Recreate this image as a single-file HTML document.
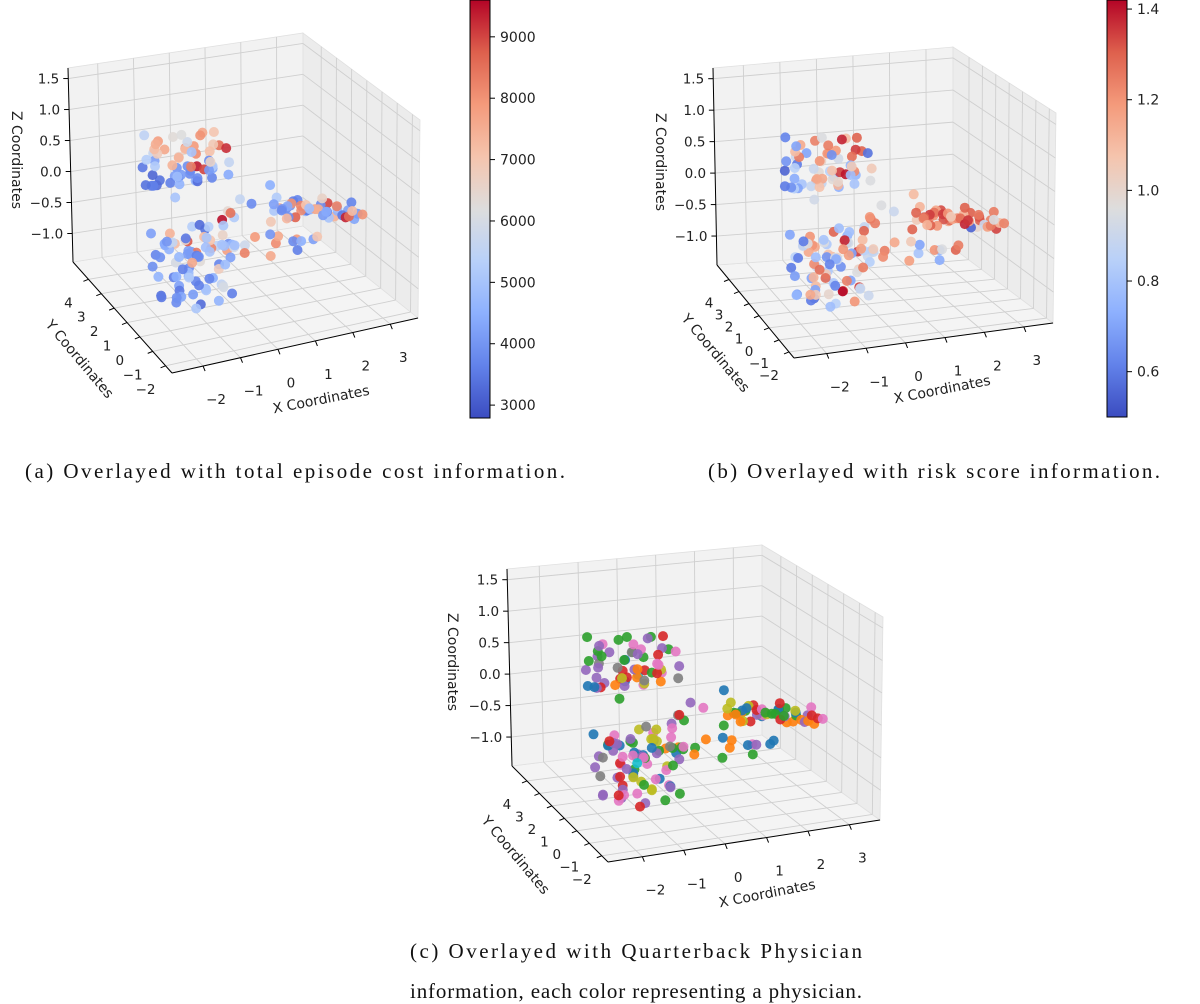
<!DOCTYPE html>
<html><head><meta charset="utf-8"><style>
html,body{margin:0;padding:0;background:#fff;}
svg{display:block;}
</style></head><body>
<svg id="fig" width="1200" height="1004" viewBox="0 0 1200 1004" xmlns="http://www.w3.org/2000/svg" font-family="'DejaVu Sans','Liberation Sans',sans-serif">
<defs>
<linearGradient id="cw" x1="0" y1="1" x2="0" y2="0">
<stop offset="0" stop-color="#3b4cc0"/><stop offset="0.125" stop-color="#6282ea"/><stop offset="0.25" stop-color="#8db0fe"/><stop offset="0.375" stop-color="#b8d0f9"/><stop offset="0.5" stop-color="#dddddd"/><stop offset="0.625" stop-color="#f5c4ad"/><stop offset="0.75" stop-color="#f49a7b"/><stop offset="0.875" stop-color="#de604d"/><stop offset="1" stop-color="#b40426"/>
</linearGradient>
</defs>
<g id="panelA"></g>
<g id="panelB"></g>
<g id="panelC"></g>
<text x="25" y="478" font-family="'Liberation Serif',serif" font-size="21" textLength="540" fill="#111">(a) Overlayed with total episode cost information.</text>
<text x="708" y="478" font-family="'Liberation Serif',serif" font-size="21" textLength="452" fill="#111">(b) Overlayed with risk score information.</text>
<text x="410" y="958" font-family="'Liberation Serif',serif" font-size="21" textLength="452" fill="#111">(c) Overlayed with Quarterback Physician</text>
<text x="410" y="998" font-family="'Liberation Serif',serif" font-size="21" textLength="452" fill="#111">information, each color representing a physician.</text>
</svg>
<script>
// ---- data ----
const pointsX=[-1.4,-1.2,-0.9,-0.6,-0.3,0.0,0.3,0.6,-1.3,-1.0,-0.7,-0.4,-0.1,0.2,0.5,0.8,-1.6,-1.1,-0.8,-0.5,-0.2,0.1,0.4,-1.3,-0.9,-0.6,-0.3,0.0,0.3,0.7,-1.5,-1.2,-0.8,-0.4,-0.1,0.2,-1.0,-0.6,-0.2,0.1,
-1.5,-1.2,-0.9,-0.6,-0.3,0.0,0.3,0.6,0.8,-1.4,-1.1,-0.8,-0.5,-0.2,0.1,0.4,-1.3,-1.0,-0.7,-0.4,-0.1,0.2,0.5,-1.6,-0.9,-0.6,-0.3,0.0,0.3,-1.2,-0.8,-0.4,-0.1,0.2,0.5,-1.4,-1.0,-0.7,-0.3,0.1,-1.1,-0.5,-0.2,0.4,0.7,
-1.7,-1.4,-1.1,-0.8,-0.5,-0.2,0.1,-1.5,-1.2,-0.9,-0.6,-0.3,0.0,-1.6,-1.3,-1.0,-0.7,-0.4,-0.1,-0.8,
0.4,0.7,1.0,1.3,1.6,1.9,0.6,0.9,1.2,1.5,0.8,1.8,
1.8,1.9,2.0,2.1,2.2,2.3,2.4,2.5,2.6,2.7,2.8,2.9,3.0,3.1,3.2,3.3,3.4,3.5,3.6,2.0,2.3,2.6,2.9,3.2,3.5,
1.8,2.1,2.4,2.7,2.2,1.9,2.6,2.3,
1.95,2.15,2.35,2.55,2.75,2.95,3.15,3.35,3.55,2.05,2.45,2.85,3.25,2.25,2.65,3.05,3.45,1.85,2.5,3.0,
-1.2,-0.8,-0.4,0.0,0.4,-1.0,-0.6,-0.2,0.2,0.6,-1.4,-0.9,-0.5,-0.1,0.3,-1.1,-0.7,-0.3,0.1,0.5,-1.3,-0.9,-0.5,-0.1,0.3,-1.0,-0.6,-0.2,0.2,0.6,-1.5,-1.1,-0.7,-0.3,0.1,-1.2,-0.8,-0.4,0.0,0.4];
const pointsY=[3.5,3.2,3.8,2.9,3.4,3.1,3.7,2.8,3.0,3.6,3.3,2.7,3.9,3.0,3.4,3.1,2.9,3.7,3.2,3.5,2.8,3.6,3.3,3.9,2.6,3.4,3.0,3.8,3.2,2.9,3.1,3.4,2.7,3.6,3.3,3.0,3.9,3.5,2.8,3.7,
2.8,2.2,3.0,2.5,1.9,2.7,2.3,3.1,2.0,2.4,1.8,2.9,2.1,3.2,2.6,1.7,3.0,2.3,1.9,2.8,2.2,3.3,2.5,2.0,1.6,2.4,3.0,1.8,2.7,2.6,2.1,1.7,2.9,2.3,2.0,1.9,2.8,3.1,2.4,1.6,2.2,2.7,1.9,2.5,2.9,
1.5,1.2,1.8,1.0,1.4,1.7,1.1,0.9,1.6,1.3,1.9,1.0,1.5,1.8,1.1,0.8,1.4,1.7,1.2,1.9,
2.0,2.5,1.8,2.8,2.2,3.0,1.5,2.6,1.2,2.0,3.2,1.6,
2.5,2.2,2.6,2.3,2.0,2.4,2.1,1.8,2.2,1.9,1.6,2.0,1.7,1.4,1.6,1.3,1.1,1.2,0.9,2.8,2.6,2.3,1.9,1.8,1.4,
2.2,1.9,2.4,2.0,1.6,2.6,1.5,2.1,
2.3,2.5,2.0,2.3,1.8,1.7,1.5,1.2,1.1,2.1,1.9,1.5,1.4,2.4,2.1,1.9,1.5,2.6,2.6,2.2,
3.3,3.6,3.0,3.4,3.2,3.8,3.1,3.5,2.9,3.3,3.0,3.7,3.2,3.6,3.0,3.4,2.8,3.9,3.1,3.5,2.3,2.8,2.0,2.6,2.2,1.8,2.5,2.9,2.1,2.4,2.7,2.0,2.4,1.7,2.8,1.5,1.9,2.2,1.6,2.0];
const pointsZ=[0.8,0.7,0.6,0.85,0.5,0.75,0.65,0.55,0.4,0.45,0.3,0.6,0.4,0.35,0.7,0.25,0.15,0.1,0.05,0.2,0.1,0.15,0.0,0.2,-0.05,0.1,0.3,0.05,0.45,0.1,0.5,0.0,0.25,0.35,0.55,0.2,0.4,0.7,0.15,-0.1,
-0.6,-0.65,-0.7,-0.75,-0.6,-0.8,-0.7,-0.65,-0.85,-0.9,-0.8,-0.85,-0.9,-0.7,-0.95,-0.75,-1.0,-1.0,-0.95,-1.05,-0.9,-0.8,-1.0,-1.1,-1.1,-1.15,-1.05,-1.1,-0.95,-0.75,-0.6,-0.7,-1.2,-1.15,-0.85,-0.55,-0.9,-1.2,-0.5,-1.0,-1.2,-0.95,-0.65,-0.6,-1.0,
-1.3,-1.35,-1.25,-1.4,-1.3,-1.2,-1.35,-1.2,-1.4,-1.3,-1.25,-1.4,-1.3,-1.35,-1.25,-1.4,-1.2,-1.35,-1.25,-1.15,
-0.3,-0.5,-0.7,-0.4,-0.6,-0.2,-0.85,-0.25,-0.9,-0.75,-0.55,-0.45,
-0.4,-0.45,-0.5,-0.42,-0.55,-0.38,-0.48,-0.4,-0.52,-0.45,-0.5,-0.42,-0.58,-0.35,-0.47,-0.53,-0.4,-0.56,-0.44,-0.37,-0.49,-0.55,-0.3,-0.6,-0.33,
-0.85,-0.9,-1.0,-0.95,-0.85,-1.05,-0.8,-1.1,
-0.45,-0.5,-0.38,-0.52,-0.44,-0.48,-0.4,-0.5,-0.46,-0.55,-0.36,-0.43,-0.51,-0.41,-0.49,-0.39,-0.47,-0.53,-0.42,-0.45,
0.6,0.5,0.7,0.4,0.55,0.3,0.45,0.2,0.35,0.5,0.1,0.0,0.15,0.05,0.25,0.0,0.1,-0.05,0.2,0.1,-0.7,-0.8,-0.9,-0.75,-0.85,-1.0,-0.95,-1.05,-0.8,-0.9,-1.1,-1.15,-0.7,-1.2,-0.65,-1.25,-1.1,-0.95,-1.3,-1.0];
const episodeCost=[5500,7500,7800,6200,7200,8000,7600,9200,5200,6800,7400,5000,8200,3800,7000,5600,3400,3200,3600,4000,3300,9400,3700,3500,5000,4200,8300,3900,7100,4400,5300,3600,4800,6500,7900,4100,5700,6300,3800,4500,
4200,5600,7400,8800,5100,4300,6600,9500,5800,3900,4700,7200,3600,5300,8200,4900,3700,6100,7600,4400,5000,3400,7800,4600,5200,3800,4100,6800,5500,4300,3500,4900,6300,3700,5900,4000,4600,5400,3300,4800,3600,4200,7000,5100,3900,
3500,3800,4200,3300,5000,4500,3600,3900,5400,4100,3700,4600,5800,3400,4300,5100,3600,4800,6000,4400,
8500,5200,7900,3800,6900,4500,8300,5600,7600,4000,6400,7300,
4200,3800,7600,4400,8700,3600,8100,4900,3500,7700,4100,3900,5000,8300,4600,9300,7200,4300,8000,5200,4000,4700,6600,7400,3700,
7600,3800,7900,4200,4500,8100,7000,3600,
4000,3800,8200,4300,7500,3600,4900,8600,4100,3900,7000,4400,3500,8000,4600,9000,4200,5100,3700,7300,
7200,7600,5800,8100,6900,4200,7400,3900,6600,8500,3600,3400,4100,3800,5200,3300,4600,3500,9000,4300,4400,5600,3800,7200,4900,3600,4100,8400,5000,4700,3900,4500,6400,3700,5300,3500,4800,4000,5500,4200];
const riskScore=[0.62,0.7,1.15,0.95,1.2,1.38,1.1,0.58,0.85,1.25,0.9,0.65,1.18,0.75,1.3,1.05,0.6,0.72,0.88,0.98,1.12,1.35,0.8,0.55,0.92,1.22,1.08,0.7,1.28,0.95,0.66,0.84,1.15,1.02,1.19,0.78,0.9,1.24,1.0,0.74,
0.7,0.95,1.2,0.82,1.38,0.65,1.1,0.88,1.25,0.6,0.78,1.15,0.92,1.3,0.7,1.05,0.85,1.22,0.62,1.0,1.18,0.75,0.9,0.68,1.28,0.82,1.1,0.95,1.35,0.72,0.8,1.2,0.65,1.02,0.88,0.6,1.15,0.9,0.78,1.25,0.7,1.08,0.93,1.3,0.85,
0.75,0.6,1.1,0.85,1.42,0.7,0.9,1.15,0.58,1.0,0.82,1.2,0.95,0.68,1.05,0.78,0.62,1.25,0.88,0.72,
1.2,1.25,1.15,0.9,1.3,1.1,1.22,0.95,1.18,1.05,1.28,1.12,
1.3,1.25,0.9,1.35,1.2,1.15,1.32,1.05,1.28,1.22,1.38,1.1,0.55,1.26,1.3,1.18,0.95,1.34,1.24,1.12,1.2,1.15,1.3,1.0,1.25,
0.7,1.2,0.75,1.3,0.95,0.8,1.25,0.72,
1.3,1.22,1.35,0.85,1.28,1.18,1.32,1.25,1.1,1.3,1.2,1.36,0.9,1.27,1.15,1.3,1.24,1.05,1.33,1.2,
1.1,0.7,1.25,0.92,1.35,0.6,1.2,0.85,1.05,1.3,0.65,0.8,1.15,0.98,1.22,0.7,1.08,0.88,1.4,0.75,0.9,1.2,0.72,1.1,0.85,1.28,0.66,1.02,1.18,0.8,0.6,1.12,0.95,1.24,0.78,0.7,1.05,0.9,1.35,0.84];
const physicianId=[2,4,6,2,7,4,2,6,4,2,7,4,2,6,3,4,0,4,1,3,8,3,1,4,2,3,1,9,3,7,2,4,8,0,6,3,4,2,7,6,
0,4,6,2,8,0,6,4,2,7,6,0,4,8,2,6,4,3,9,2,4,6,0,7,8,2,4,6,1,2,4,0,6,8,2,3,4,6,7,2,4,0,8,6,1,
4,6,3,4,8,0,2,3,4,6,8,2,0,4,6,3,2,8,4,7,
3,2,1,6,2,0,1,4,2,0,7,1,
8,1,2,0,3,8,4,2,6,2,3,0,1,8,2,4,3,1,6,8,2,0,3,1,6,
1,0,6,0,4,1,0,2,
2,1,3,8,2,4,0,1,3,8,6,2,1,0,8,2,4,1,3,2,
2,4,6,2,4,7,2,4,6,2,0,4,3,1,8,3,4,0,2,6,0,4,6,8,2,4,6,0,7,2,4,3,2,6,8,4,0,2,6,4];
const xTicks=[-2,-1,0,1,2,3];
const yTicks=[-2,-1,0,1,2,3,4];
const zTicks=[-1.0,-0.5,0.0,0.5,1.0,1.5];
const costTicks=[3000,4000,5000,6000,7000,8000,9000];
const riskTicks=[0.6,0.8,1.0,1.2,1.4];

const XR=[-2.83,3.74], YR=[-2.5,5.2], ZR=[-1.46,1.67];
const NS='http://www.w3.org/2000/svg';
function el(tag,attrs,parent){const e=document.createElementNS(NS,tag);for(const k in attrs)e.setAttribute(k,attrs[k]);if(parent)parent.appendChild(e);return e;}
function lerp(p,q,t){return [p[0]+(q[0]-p[0])*t,p[1]+(q[1]-p[1])*t];}
function makeProj(c){return function(x,y,z){
 const fx=(x-XR[0])/(XR[1]-XR[0]),fy=(y-YR[0])/(YR[1]-YR[0]),fz=(z-ZR[0])/(ZR[1]-ZR[0]);
 const b=lerp(lerp(c.A,c.B,fx),lerp(c.C,c.D,fx),fy);
 const t=lerp(lerp(c.A2,c.B2,fx),lerp(c.C2,c.D2,fx),fy);
 return lerp(b,t,fz);};}
const CW=[[59,76,192],[98,130,234],[141,176,254],[184,208,249],[221,221,221],[245,196,173],[244,154,123],[222,96,77],[180,4,38]];
function coolwarm(t){t=Math.max(0,Math.min(1,t))*8;const i=Math.min(7,Math.floor(t)),f=t-i;const a=CW[i],b=CW[i+1];
 return 'rgb('+[0,1,2].map(k=>Math.round(a[k]+(b[k]-a[k])*f)).join(',')+')';}
const TAB=['#1f77b4','#ff7f0e','#2ca02c','#d62728','#9467bd','#8c564b','#e377c2','#7f7f7f','#bcbd22','#17becf'];
function pt(p){return p[0].toFixed(1)+','+p[1].toFixed(1);}

function drawPanel(g,c,colorOf,lab){
 const P=makeProj(c);
 const x0=XR[0],x1=XR[1],y0=YR[0],y1=YR[1],z0=ZR[0],z1=ZR[1];
 const floor=el('polygon',{points:[P(x0,y0,z0),P(x1,y0,z0),P(x1,y1,z0),P(x0,y1,z0)].map(pt).join(' '),fill:'#f4f4f4',stroke:'#e0e0e0','stroke-width':0.8},g);
 
 const back=el('polygon',{points:[P(x0,y1,z0),P(x1,y1,z0),P(x1,y1,z1),P(x0,y1,z1)].map(pt).join(' '),fill:'#f2f2f2',stroke:'#e0e0e0','stroke-width':0.8},g);
 
 const side=el('polygon',{points:[P(x1,y0,z0),P(x1,y1,z0),P(x1,y1,z1),P(x1,y0,z1)].map(pt).join(' '),fill:'#ececec',stroke:'#e0e0e0','stroke-width':0.8},g);
 
 const grid=el('g',{stroke:'#cfcfcf','stroke-width':0.9,fill:'none'},g);
 
 function ln(a,b){el('line',{x1:a[0],y1:a[1],x2:b[0],y2:b[1]},grid);}
 xTicks.forEach(v=>{ln(P(v,y0,z0),P(v,y1,z0));ln(P(v,y1,z0),P(v,y1,z1));});
 yTicks.forEach(v=>{ln(P(x0,v,z0),P(x1,v,z0));ln(P(x1,v,z0),P(x1,v,z1));});
 zTicks.forEach(v=>{ln(P(x0,y1,v),P(x1,y1,v));ln(P(x1,y1,v),P(x1,y0,v));});
 const ax=el('g',{stroke:'#000','stroke-width':1,fill:'none'},g);
 
 [[P(x0,y0,z0),P(x1,y0,z0)],[P(x0,y0,z0),P(x0,y1,z0)],[P(x0,y1,z0),P(x0,y1,z1)]].forEach(s=>el('line',{x1:s[0][0],y1:s[0][1],x2:s[1][0],y2:s[1][1]},ax));
 const idx=pointsX.map((_,i)=>i);
 const depth=i=>(pointsX[i]-x0)/(x1-x0)*0.6+(pointsY[i]-y0)/(y1-y0);
 idx.sort((a,b)=>depth(b)-depth(a));
 const pg=el('g',{},g);
 
 idx.forEach(i=>{const p=P(pointsX[i],pointsY[i],pointsZ[i]);
  const cEl=el('circle',{cx:p[0].toFixed(1),cy:p[1].toFixed(1),r:5,fill:colorOf(i),'fill-opacity':0.9},pg);
  
  });
 const tg=el('g',{'font-size':13.5,fill:'#222'},g);
 
 function tl(txt,x,y,anchor){const t=el('text',{x:x,y:y,'text-anchor':anchor},tg);t.textContent=txt;}
 xTicks.forEach(v=>{const p=P(v,y0,z0);el('line',{x1:p[0],y1:p[1],x2:p[0]+2,y2:p[1]+5,stroke:'#000'},tg);tl(v<0?'\u2212'+(-v):String(v),p[0]+13,p[1]+38,'middle');});
 yTicks.forEach(v=>{const p=P(x0,v,z0);el('line',{x1:p[0],y1:p[1],x2:p[0]-5,y2:p[1]+2,stroke:'#000'},tg);tl(v<0?'\u2212'+(-v):String(v),p[0]-20,p[1]+28,'middle');});
 zTicks.forEach(v=>{const p=P(x0,y1,v);el('line',{x1:p[0],y1:p[1],x2:p[0]-5,y2:p[1],stroke:'#000'},tg);tl(v<0?'\u2212'+(-v).toFixed(1):v.toFixed(1),p[0]-9,p[1]+5,'end');});
 const at=el('g',{'font-size':14,fill:'#222','text-anchor':'middle'},g);
 
 const zt=el('text',{transform:'translate('+lab.z[0]+','+lab.z[1]+') rotate(90)'},at);zt.textContent='Z Coordinates';
 
 const yt=el('text',{transform:'translate('+lab.y[0]+','+lab.y[1]+') rotate(50)'},at);yt.textContent='Y Coordinates';
 
 const xt=el('text',{transform:'translate('+lab.x[0]+','+lab.x[1]+') rotate(-11)'},at);xt.textContent='X Coordinates';
 
}

function drawColorbar(g,x,y0,y1,vmin,vmax,ticks,fmt){
 const bar=el('rect',{x:x,y:y0,width:20,height:y1-y0,fill:'url(#cw)',stroke:'#000','stroke-width':1},g);
 
 ticks.forEach(v=>{const yy=y1-(v-vmin)/(vmax-vmin)*(y1-y0);
  el('line',{x1:x+20,y1:yy,x2:x+25,y2:yy,stroke:'#000'},g);
  const t=el('text',{x:x+30,y:yy+5,'font-size':14,fill:'#222'},g);
  
  t.textContent=fmt(v);});
}

const costMin=2790,costMax=9600,riskMin=0.5,riskMax=1.42;
drawPanel(document.getElementById('panelA'),
 {A:[172,373],B:[418,318],C:[73,262],D:[303,226],A2:[177,160],B2:[420,120],C2:[68,68],D2:[303,33]},
 i=>coolwarm((episodeCost[i]-costMin)/(costMax-costMin)),{z:[12,160],y:[76,362],x:[322,404]});
drawColorbar(document.getElementById('panelA'),470,0,418,costMin,costMax,costTicks,v=>String(v));
drawPanel(document.getElementById('panelB'),
 {A:[794,358],B:[1053,323],C:[717,265],D:[953,248],A2:[798,158],B2:[1056,113],C2:[713,68],D2:[953,47]},
 i=>coolwarm((riskScore[i]-riskMin)/(riskMax-riskMin)),{z:[656,162],y:[712,356],x:[943,394]});
drawColorbar(document.getElementById('panelB'),1107,0,417,riskMin,riskMax,riskTicks,v=>v.toFixed(1));
drawPanel(document.getElementById('panelC'),
 {A:[608,862],B:[880,820],C:[512,766],D:[762,735],A2:[612,655],B2:[883,617],C2:[507,569],D2:[762,545]},
 i=>TAB[physicianId[i]],{z:[448,662],y:[512,858],x:[768,898]});
</script>
</body></html>
